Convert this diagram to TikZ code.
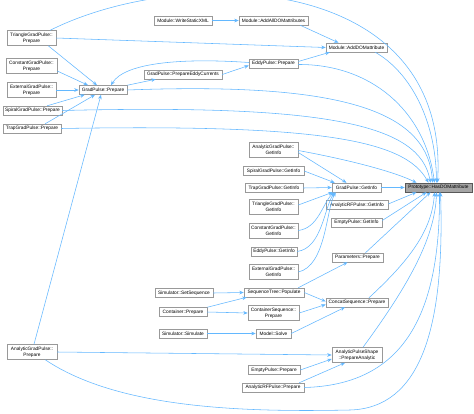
\documentclass[tikz,border=0pt]{standalone}
\usepackage{fontspec}
\setmainfont{Liberation Sans}
\usetikzlibrary{arrows.meta}
\definecolor{edgeblue}{RGB}{99,184,255}
\definecolor{nodeborder}{RGB}{153,153,153}
\definecolor{rootfill}{RGB}{165,165,165}
\begin{document}
\begin{tikzpicture}[x=1pt,y=-1pt,
  box/.style={draw=nodeborder, fill=white, line width=0.5pt, inner sep=0pt, align=center,
    font=\fontsize{4.8}{5.6}\selectfont},
  root/.style={box, fill=rootfill, draw=black!65},
  call/.style={draw=edgeblue, line width=0.55pt, -{Stealth[length=4.5pt,width=3.6pt]}}
]
\useasboundingbox (0,0) rectangle (474,413);
\fill[white] (0,0) rectangle (474,413);

% nodes
\node[root, minimum width=67pt, minimum height=9pt] (proto) at (438.5,187.5) {Prototype::HasDOMattribute};
\node[box, minimum width=61pt, minimum height=9pt] (addDOM) at (356.5,47.5) {Module::AddDOMattribute};
\node[box, minimum width=69pt, minimum height=9pt] (addAll) at (273.5,20.5) {Module::AddAllDOMattributes};
\node[box, minimum width=58pt, minimum height=9pt] (writeXML) at (183,20.5) {Module::WriteStaticXML};
\node[box, minimum width=49pt, minimum height=9pt] (eddyPrep) at (273.5,63.5) {EddyPulse::Prepare};
\node[box, minimum width=78pt, minimum height=9pt] (prepEddy) at (183,74.5) {GradPulse::PrepareEddyCurrents};
\node[box, minimum width=48pt, minimum height=9pt] (gradPrep) at (103,90) {GradPulse::Prepare};
\node[box, minimum width=49pt, minimum height=15pt] (triPrep) at (31.5,38) {TriangleGradPulse::\\Prepare};
\node[box, minimum width=51pt, minimum height=15pt] (constPrep) at (31.5,66) {ConstantGradPulse::\\Prepare};
\node[box, minimum width=49pt, minimum height=15pt] (extPrep) at (31.5,90) {ExternalGradPulse::\\Prepare};
\node[box, minimum width=59pt, minimum height=9pt] (spiralPrep) at (32.5,110.5) {SpiralGradPulse::Prepare};
\node[box, minimum width=58pt, minimum height=9pt] (trapPrep) at (32,128.5) {TrapGradPulse::Prepare};
\node[box, minimum width=50pt, minimum height=15pt] (agpPrep) at (32,352) {AnalyticGradPulse::\\Prepare};

\node[box, minimum width=49pt, minimum height=15pt] (agpInfo) at (273.5,149.5) {AnalyticGradPulse::\\GetInfo};
\node[box, minimum width=61pt, minimum height=9pt] (spiralInfo) at (273.5,171) {SpiralGradPulse::GetInfo};
\node[box, minimum width=58pt, minimum height=9pt] (trapInfo) at (274,188) {TrapGradPulse::GetInfo};
\node[box, minimum width=49pt, minimum height=15pt] (triInfo) at (273.5,207) {TriangleGradPulse::\\GetInfo};
\node[box, minimum width=49pt, minimum height=15pt] (constInfo) at (273.5,230.5) {ConstantGradPulse::\\GetInfo};
\node[box, minimum width=46pt, minimum height=9pt] (eddyInfo) at (274,251.5) {EddyPulse::GetInfo};
\node[box, minimum width=49pt, minimum height=15pt] (extInfo) at (273.5,272) {ExternalGradPulse::\\GetInfo};

\node[box, minimum width=49pt, minimum height=9pt] (gradInfo) at (356.5,187.5) {GradPulse::GetInfo};
\node[box, minimum width=62pt, minimum height=9pt] (arfInfo) at (357,205) {AnalyticRFPulse::GetInfo};
\node[box, minimum width=51pt, minimum height=9pt] (emptyInfo) at (356.5,222.5) {EmptyPulse::GetInfo};
\node[box, minimum width=51pt, minimum height=9pt] (params) at (357.5,257.5) {Parameters::Prepare};
\node[box, minimum width=62pt, minimum height=9pt] (concat) at (357,302.5) {ConcatSequence::Prepare};
\node[box, minimum width=50pt, minimum height=15pt] (aps) at (357,355) {AnalyticPulseShape\\::PrepareAnalytic};

\node[box, minimum width=58pt, minimum height=9pt] (setSeq) at (184,293) {Simulator::SetSequence};
\node[box, minimum width=60pt, minimum height=9pt] (populate) at (274,292.5) {SequenceTree::Populate};
\node[box, minimum width=48pt, minimum height=9pt] (contPrep) at (183,312) {Container::Prepare};
\node[box, minimum width=51pt, minimum height=15pt] (contSeq) at (273.5,313) {ContainerSequence::\\Prepare};
\node[box, minimum width=48pt, minimum height=9pt] (simulate) at (183,333.5) {Simulator::Simulate};
\node[box, minimum width=35pt, minimum height=9pt] (solve) at (273.5,333.5) {Model::Solve};
\node[box, minimum width=52pt, minimum height=9pt] (emptyPrep) at (274,370) {EmptyPulse::Prepare};
\node[box, minimum width=62pt, minimum height=9pt] (arfPrep) at (273,387.5) {AnalyticRFPulse::Prepare};

% edges: module chain
\draw[call] (writeXML) -- (addAll);
\draw[call] ([xshift=-8pt]addAll.south east) -- ([xshift=-18pt]addDOM.north);
\draw[call] ([xshift=-12pt]addDOM.south east) .. controls (410,72) and (436,120) .. ([xshift=-2pt]proto.north);

% TriangleGradPulse::Prepare
\draw[call] ([xshift=-6pt]triPrep.north east) .. controls (180,-35) and (450,-30) .. ([xshift=-1pt]proto.north);
\draw[call] (triPrep.east) -- (addDOM.west);
\draw[call] ([xshift=-8pt]triPrep.south east) -- ([xshift=-6pt]gradPrep.north);

% GradPulse::Prepare callers
\draw[call] ([yshift=-5pt]constPrep.east) -- ([xshift=-15pt]gradPrep.north);
\draw[call] (extPrep.east) -- (gradPrep.west);
\draw[call] ([xshift=-15pt]spiralPrep.north east) -- ([xshift=6pt]gradPrep.south west);
\draw[call] ([xshift=-16pt]trapPrep.north east) -- ([xshift=-8pt]gradPrep.south);
\draw[call] ([xshift=2pt]agpPrep.north) -- ([xshift=-2pt]gradPrep.south);
\draw[call] ([yshift=1pt]eddyPrep.west) .. controls (185,58) and (125,62) .. ([xshift=8pt]gradPrep.north);

% eddy cycle
\draw[call] (gradPrep.north east) -- ([xshift=12pt]prepEddy.south west);
\draw[call] (prepEddy.east) -- ([yshift=-2pt]eddyPrep.west);
\draw[call] ([yshift=2pt]eddyPrep.east) -- ([xshift=4pt]addDOM.south west);
\draw[call] ([yshift=-1pt]eddyPrep.east) .. controls (370,64) and (425,110) .. ([xshift=-4pt]proto.north);

% long lines to Prototype from the left
\draw[call] (gradPrep.east) .. controls (340,82) and (428,110) .. ([xshift=-6pt]proto.north);
\draw[call] (spiralPrep.east) .. controls (330,104) and (420,125) .. ([xshift=-8pt]proto.north);
\draw[call] (trapPrep.east) .. controls (320,124) and (405,140) .. ([xshift=-10pt]proto.north);

% GetInfo
\draw[call] ([yshift=-1pt]agpInfo.east) .. controls (350,160) and (395,172) .. ([xshift=-22pt]proto.north);
\draw[call] ([yshift=-3pt]agpInfo.east) -- ([xshift=-10pt]gradInfo.north);
\draw[call] (spiralInfo.east) -- ([xshift=3pt]gradInfo.north west);
\draw[call] (trapInfo.east) -- (gradInfo.west);
\draw[call] ([yshift=2pt]triInfo.east) -- ([xshift=1pt]gradInfo.south west);
\draw[call] (constInfo.east) .. controls (318,228) and (322,205) .. ([xshift=2pt]gradInfo.south west);
\draw[call] (eddyInfo.east) .. controls (322,248) and (324,208) .. ([xshift=3pt]gradInfo.south west);
\draw[call] (extInfo.east) .. controls (326,266) and (326,210) .. ([xshift=4pt]gradInfo.south west);
\draw[call] (gradInfo.east) -- (proto.west);

% callers from below
\draw[call] ([yshift=1pt]arfInfo.east) -- ([xshift=-22pt]proto.south);
\draw[call] ([yshift=2pt]emptyInfo.east) -- ([xshift=-12pt]proto.south);
\draw[call] ([xshift=8pt]params.north) -- ([xshift=-8pt]proto.south);
\draw[call] ([xshift=12pt]concat.north) .. controls (410,260) and (432,230) .. ([xshift=-4pt]proto.south);
\draw[call] ([xshift=6pt]aps.north) .. controls (405,290) and (435,240) .. ([xshift=-2pt]proto.south);
\draw[call] (arfPrep.east) .. controls (400,385) and (440,320) .. ([xshift=1pt]proto.south);
\draw[call] ([xshift=-12pt]agpPrep.south east) .. controls (120,410) and (250,412) .. (350,410)
   .. controls (420,408) and (445,330) .. ([xshift=2pt]proto.south);

% sequence area
\draw[call] (setSeq.east) -- (populate.west);
\draw[call] (contPrep.north east) -- ([xshift=3pt]populate.south west);
\draw[call] (contPrep.east) -- (contSeq.west);
\draw[call] (simulate) -- (solve);
\draw[call] ([xshift=-6pt]populate.north east) -- ([xshift=-10pt]params.south);
\draw[call] (populate.east) -- ([yshift=1pt]concat.west);
\draw[call] (contSeq.east) -- ([yshift=-2pt]concat.west);
\draw[call] (solve.east) -- ([xshift=-12pt]concat.south);

% AnalyticPulseShape
\draw[call] (agpPrep.east) -- (aps.west);
\draw[call] (emptyPrep.east) -- ([yshift=-4pt]aps.west);
\draw[call] ([xshift=-5pt]arfPrep.north east) -- ([xshift=-12pt]aps.south);
\end{tikzpicture}
\end{document}
